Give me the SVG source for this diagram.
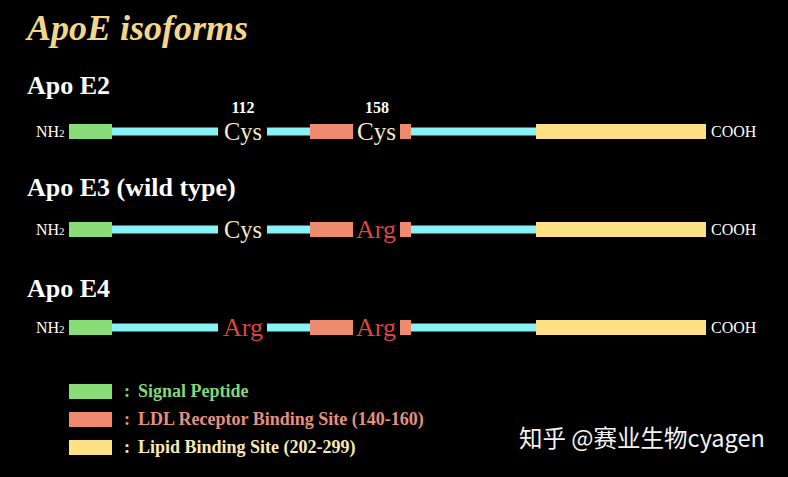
<svg xmlns="http://www.w3.org/2000/svg" width="788" height="477" viewBox="0 0 788 477">
<style>
.sig{fill:#88dd78}
.cy{fill:#88f2f6}
.ldl{fill:#ee8a6e}
.lip{fill:#fde184}
.t{font-family:"Liberation Serif","Times New Roman",serif}
.title{font-size:36px;font-weight:bold;font-style:italic;fill:#f2d68a}
.row{font-size:26px;font-weight:bold;fill:#ffffff}
.end{font-size:16px;fill:#ffffff}
.num{font-size:16px;font-weight:bold;fill:#ffffff}
.cys{font-size:26px;fill:#f7ebc8}
.arg{font-size:26px;fill:#d8463f}
.leg{font-size:18px;font-weight:bold}
.wm{font-family:"Noto Sans CJK SC","Noto Sans",sans-serif;font-size:23.5px;fill:#f2f2f2}
</style>
<rect width="788" height="477" fill="#000000"/>
<text class="t title" x="27" y="40">ApoE isoforms</text>

<g id="apoE2">
<text class="t row" x="27" y="94">Apo E2</text>
<text class="t end" x="36" y="137">NH<tspan font-size="11">2</tspan></text>
<rect class="sig" x="69" y="124" width="43" height="15"/>
<rect class="cy" x="112" y="127.5" width="106" height="8"/>
<text class="t num" x="243" y="113" text-anchor="middle">112</text>
<text class="t cys" x="224" y="140" textLength="38" lengthAdjust="spacingAndGlyphs">Cys</text>
<rect class="cy" x="267" y="127.5" width="43" height="8"/>
<rect class="ldl" x="310" y="124" width="43" height="15"/>
<text class="t num" x="377" y="113" text-anchor="middle">158</text>
<text class="t cys" x="357" y="140" textLength="39" lengthAdjust="spacingAndGlyphs">Cys</text>
<rect class="ldl" x="400" y="124" width="11" height="15"/>
<rect class="cy" x="411" y="127.5" width="125" height="8"/>
<rect class="lip" x="536" y="124" width="170" height="15"/>
<text class="t end" x="711" y="137">COOH</text>
</g>

<g id="apoE3">
<text class="t row" x="27" y="196">Apo E3 (wild type)</text>
<text class="t end" x="36" y="235">NH<tspan font-size="11">2</tspan></text>
<rect class="sig" x="69" y="222" width="43" height="15"/>
<rect class="cy" x="112" y="225.5" width="106" height="8"/>
<text class="t cys" x="224" y="238" textLength="38" lengthAdjust="spacingAndGlyphs">Cys</text>
<rect class="cy" x="267" y="225.5" width="43" height="8"/>
<rect class="ldl" x="310" y="222" width="43" height="15"/>
<text class="t arg" x="356" y="238" textLength="40" lengthAdjust="spacingAndGlyphs">Arg</text>
<rect class="ldl" x="400" y="222" width="11" height="15"/>
<rect class="cy" x="411" y="225.5" width="125" height="8"/>
<rect class="lip" x="536" y="222" width="170" height="15"/>
<text class="t end" x="711" y="235">COOH</text>
</g>

<g id="apoE4">
<text class="t row" x="27" y="297">Apo E4</text>
<text class="t end" x="36" y="333">NH<tspan font-size="11">2</tspan></text>
<rect class="sig" x="69" y="320" width="43" height="15"/>
<rect class="cy" x="112" y="323.5" width="106" height="8"/>
<text class="t arg" x="223" y="336" textLength="40" lengthAdjust="spacingAndGlyphs">Arg</text>
<rect class="cy" x="267" y="323.5" width="43" height="8"/>
<rect class="ldl" x="310" y="320" width="43" height="15"/>
<text class="t arg" x="356" y="336" textLength="40" lengthAdjust="spacingAndGlyphs">Arg</text>
<rect class="ldl" x="400" y="320" width="11" height="15"/>
<rect class="cy" x="411" y="323.5" width="125" height="8"/>
<rect class="lip" x="536" y="320" width="170" height="15"/>
<text class="t end" x="711" y="333">COOH</text>
</g>

<g id="legend">
<rect class="sig" x="69" y="384" width="43" height="15"/>
<text class="t leg" x="124" y="397" fill="#86d674"><tspan>:</tspan><tspan x="138">Signal Peptide</tspan></text>
<rect class="ldl" x="69" y="412" width="43" height="15"/>
<text class="t leg" x="124" y="425" fill="#e49080"><tspan>:</tspan><tspan x="138">LDL Receptor Binding Site (140-160)</tspan></text>
<rect class="lip" x="69" y="440" width="43" height="15"/>
<text class="t leg" x="124" y="453" fill="#f9e8b4"><tspan>:</tspan><tspan x="138">Lipid Binding Site (202-299)</tspan></text>
</g>

<text class="wm" x="519" y="447">知乎 @赛业生物cyagen</text>
</svg>
